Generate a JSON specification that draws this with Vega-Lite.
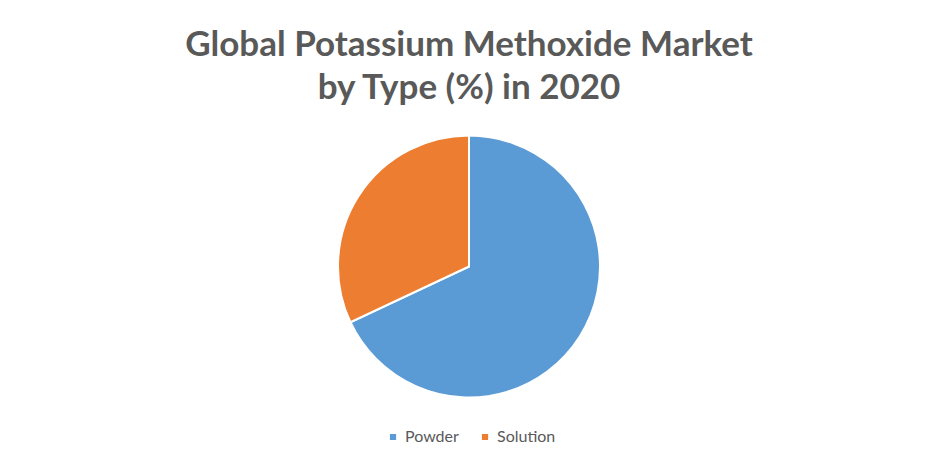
{
  "$schema": "https://vega.github.io/schema/vega-lite/v6.json",
  "autosize": {"type": "fit", "contains": "padding"},
  "width": 938,
  "height": 469,
  "padding": {"top": 28, "bottom": 46, "left": 0, "right": 0},
  "background": "white",
  "title": {
    "text": ["Global Potassium Methoxide Market", "by Type (%) in 2020"],
    "fontSize": 35,
    "font": "Lato",
    "fontWeight": "bold",
    "color": "#595959",
    "lineHeight": 43,
    "anchor": "middle",
    "offset": 4
  },
  "data": {
    "values": [
      {"type": "Powder", "share": 68},
      {"type": "Solution", "share": 32}
    ]
  },
  "mark": {"type": "arc", "outerRadius": 131, "stroke": "white", "strokeWidth": 2},
  "encoding": {
    "theta": {"field": "share", "type": "quantitative", "stack": true},
    "order": {"field": "type", "sort": "ascending"},
    "color": {
      "field": "type",
      "type": "nominal",
      "sort": ["Powder", "Solution"],
      "scale": {"domain": ["Powder", "Solution"], "range": ["#5B9BD5", "#ED7D31"]},
      "legend": {
        "title": null,
        "orient": "none",
        "legendX": 385,
        "legendY": 319,
        "direction": "horizontal",
        "symbolType": "square",
        "symbolSize": 60,
        "labelFont": "Lato",
        "labelFontSize": 16,
        "labelColor": "#595959",
        "columnPadding": 18
      }
    }
  },
  "config": {"view": {"stroke": null}}
}
